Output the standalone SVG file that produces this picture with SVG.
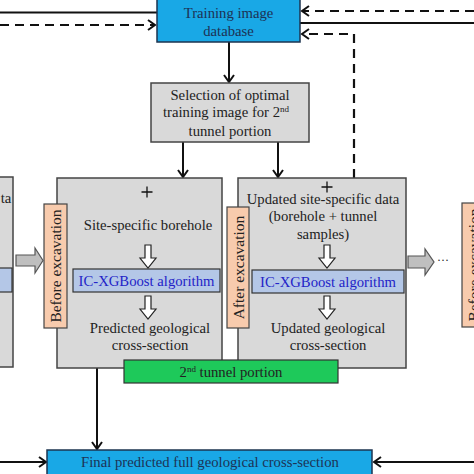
<svg xmlns="http://www.w3.org/2000/svg" width="474" height="474" viewBox="0 0 474 474" font-family="'Liberation Serif', 'Times New Roman', serif">
<style>
text{font-family:'Liberation Serif','Times New Roman',serif;font-size:14.7px;fill:#222;text-anchor:middle}
.blue{fill:#19a8e6;stroke:#1d3550;stroke-width:1.5}
.bt{fill:#1d3255}
.gray{fill:#d9d9d9;stroke:#444;stroke-width:1.5}
.or{fill:#f8cbad;stroke:#444;stroke-width:1.2}
.alg{fill:#b4c7e7;stroke:#333;stroke-width:1.2}
.at{fill:#2323c8}
.gr{fill:#1ec95a;stroke:#333;stroke-width:1.2}
.ln{stroke:#111;stroke-width:2;fill:none}
.ds{stroke:#111;stroke-width:2.2;fill:none;stroke-dasharray:9,6}
.hol{fill:#fff;stroke:#222;stroke-width:1.2}
.thick{fill:#bfbfbf;stroke:#555;stroke-width:1.2}
.plus{stroke:#111;stroke-width:1.3}
</style>
<defs>
<marker id="ah" markerWidth="12" markerHeight="12" refX="10" refY="6" orient="auto" markerUnits="userSpaceOnUse">
<polyline points="3,1 10,6 3,11" fill="none" stroke="#111" stroke-width="2"/>
</marker>
</defs>
<g id="connectors">
<line class="ln" x1="0" y1="12.5" x2="157" y2="12.5"/>
<line class="ds" x1="0" y1="25" x2="155" y2="25" marker-end="url(#ah)"/>
<line class="ds" x1="474" y1="11" x2="302" y2="11" marker-end="url(#ah)"/>
<line class="ln" x1="300" y1="23" x2="474" y2="23"/>
<polyline class="ds" points="354,178 354,34 302,34" marker-end="url(#ah)"/>
<line class="ln" x1="229" y1="42" x2="229" y2="82" marker-end="url(#ah)"/>
<line class="ln" x1="183" y1="142" x2="183" y2="177" marker-end="url(#ah)"/>
<line class="ln" x1="278" y1="142" x2="278" y2="177" marker-end="url(#ah)"/>
<line class="ln" x1="97" y1="368" x2="97" y2="449" marker-end="url(#ah)"/>
<line class="ln" x1="0" y1="462" x2="46" y2="462" marker-end="url(#ah)"/>
<line class="ln" x1="474" y1="462" x2="374" y2="462" marker-end="url(#ah)"/>
<polygon class="thick" points="16,255 35,255 35,248 43,260.5 35,273 35,266 16,266"/>
<polygon class="thick" points="408,256 425,256 425,249 434,262 425,275 425,268 408,268"/>
</g>
<g id="training-db">
<rect class="blue" x="157" y="-2" width="143" height="44"/>
<text class="bt" x="228.5" y="18">Training image</text>
<text class="bt" x="228.5" y="36">database</text>
</g>
<g id="selection">
<rect class="gray" x="151" y="83" width="158" height="59"/>
<text x="230" y="100">Selection of optimal</text>
<text x="226" y="117">training image for 2<tspan font-size="9" dy="-5">nd</tspan></text>
<text x="230" y="136">tunnel portion</text>
</g>
<g id="portion1">
<rect class="gray" x="-20" y="177" width="33" height="190"/>
<text x="6" y="203">ta</text>
<rect class="alg" x="-20" y="268" width="32" height="24"/>
</g>
<g id="portion2">
<rect class="gray" x="57" y="178" width="165" height="190"/>
<rect class="or" x="44" y="204" width="23" height="124"/>
<text transform="translate(61,266) rotate(-90)" style="font-size:15.5px">Before excavation</text>
<path class="plus" d="M141.5,192 H152.5 M147,186.5 V197.5"/>
<text x="148" y="230">Site-specific borehole</text>
<polygon class="hol" points="145,245 151,245 151,258 156,258 148,268 140,258 145,258"/>
<rect class="alg" x="73" y="269" width="147" height="23"/>
<text class="at" x="146.5" y="286">IC-XGBoost algorithm</text>
<polygon class="hol" points="145,296 151,296 151,309 156,309 148,319 140,309 145,309"/>
<text x="150" y="333">Predicted geological</text>
<text x="150" y="350">cross-section</text>
</g>
<g id="portion3">
<rect class="gray" x="238" y="178" width="168" height="190"/>
<rect class="or" x="227" y="207" width="22" height="121"/>
<text transform="translate(243.5,267.5) rotate(-90)" style="font-size:15.5px">After excavation</text>
<path class="plus" d="M321.5,187 H332.5 M327,181.5 V192.5"/>
<text x="323" y="204">Updated site-specific data</text>
<text x="323" y="221">(borehole + tunnel</text>
<text x="323" y="239">samples)</text>
<polygon class="hol" points="324,245 330,245 330,258 335,258 327,268 319,258 324,258"/>
<rect class="alg" x="252" y="270" width="152" height="23"/>
<text class="at" x="328" y="287">IC-XGBoost algorithm</text>
<polygon class="hol" points="324,296 330,296 330,309 335,309 327,319 319,309 324,309"/>
<text x="328" y="333">Updated geological</text>
<text x="328" y="350">cross-section</text>
</g>
<g id="tunnel2">
<rect class="gr" x="124" y="360" width="214" height="23"/>
<text x="231" y="377">2<tspan font-size="9" dy="-5">nd</tspan><tspan dy="5"> tunnel portion</tspan></text>
</g>
<g id="dots">
<text x="443" y="264" style="font-size:12px">···</text>
</g>
<g id="portion4">
<rect class="or" x="462" y="203" width="24" height="124"/>
<text transform="translate(478.5,265) rotate(-90)" style="font-size:15.5px">Before excavation</text>
</g>
<g id="final">
<rect class="blue" x="47" y="450" width="325" height="30"/>
<text class="bt" x="210" y="467">Final predicted full geological cross-section</text>
</g>
</svg>
